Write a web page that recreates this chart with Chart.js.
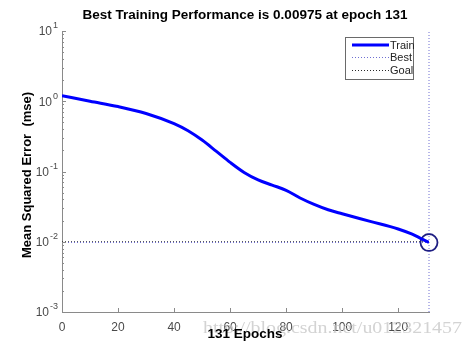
<!DOCTYPE html>
<html>
<head>
<meta charset="utf-8">
<script src="https://cdn.jsdelivr.net/npm/chart.js@4.4.1/dist/chart.umd.min.js"></script>
<style>
html,body{margin:0;padding:0;background:#fff;}
#c{display:block;}
</style>
</head>
<body>
<canvas id="c" width="474" height="355"></canvas>
<script>
// ---- data ----
const epochs = [0,10,20,30,40,45,50,55,60,65,70,75,80,85,90,95,100,110,120,125,128,131];
const mse    = [1.2,1.0,0.84,0.67,0.48,0.38,0.28,0.195,0.135,0.097,0.076,0.064,0.054,0.042,0.034,0.0285,0.025,0.0195,0.0152,0.0128,0.0112,0.00975];
const bestEpoch = 131;
const bestPerf = 0.00975;
const goalPerf = 0.01;
const xTickValues = [0,20,40,60,80,100,120];
const yTickExponents = [-3,-2,-1,0,1];
const titleText = "Best Training Performance is 0.00975 at epoch 131";
const yTitleText = "Mean Squared Error  (mse)";
const xTitleText = "131 Epochs";
const legendLabels = ["Train","Best","Goal"];
const watermarkText = "http://blog.csdn.net/u012321457";

const yMin = Math.pow(10, yTickExponents[0]);
const yMax = Math.pow(10, yTickExponents[yTickExponents.length-1]);

const trainColor = 'rgb(0,0,255)';
const bestColor = 'rgb(110,110,210)';
const goalColor = 'rgb(40,40,40)';
const axisColor = '#8a8a8a';
const labelColor = '#4a4a4a';

const trainData = epochs.map((e,i)=>({x:e,y:mse[i]}));

const extras = {
  id:'extras',
  afterDraw(chart){
    const ctx = chart.ctx;
    const xs = chart.scales.x, ys = chart.scales.y;
    const ca = chart.chartArea;
    ctx.save();
    // watermark (behind texts)
    ctx.fillStyle = 'rgba(200,200,200,0.8)';
    ctx.textAlign = 'left';
    ctx.textBaseline = 'alphabetic';
    ctx.font = '16px "Liberation Serif", "DejaVu Serif", serif';
    const ww = ctx.measureText(watermarkText).width;
    ctx.save();
    ctx.translate(203, 333);
    ctx.scale(259/ww, 1);
    ctx.fillText(watermarkText, 0, 0);
    ctx.restore();
    // ticks
    ctx.strokeStyle = axisColor;
    ctx.lineWidth = 1;
    ctx.beginPath();
    xTickValues.forEach(v=>{
      const px = Math.round(xs.getPixelForValue(v))+0.5;
      ctx.moveTo(px, ca.bottom); ctx.lineTo(px, ca.bottom-4);
    });
    yTickExponents.forEach((e,i)=>{
      const py = Math.round(ys.getPixelForValue(Math.pow(10,e)))+0.5;
      ctx.moveTo(ca.left, py); ctx.lineTo(ca.left+4, py);
      if(i < yTickExponents.length-1){
        for(let m=2;m<=9;m++){
          const pm = Math.round(ys.getPixelForValue(m*Math.pow(10,e)))+0.5;
          ctx.moveTo(ca.left, pm); ctx.lineTo(ca.left+2, pm);
        }
      }
    });
    ctx.stroke();
    // y tick labels
    ctx.fillStyle = labelColor;
    ctx.textBaseline = 'middle';
    yTickExponents.forEach(e=>{
      const py = ys.getPixelForValue(Math.pow(10,e));
      const exp = String(e);
      ctx.font = '9px "Liberation Sans", Arial, sans-serif';
      const ew = ctx.measureText(exp).width;
      ctx.textAlign = 'right';
      ctx.fillText(exp, ca.left - 4, py - 5);
      ctx.font = '12px "Liberation Sans", Arial, sans-serif';
      ctx.fillText('10', ca.left - 5 - ew, py + 1);
    });
    // title
    ctx.fillStyle = '#000';
    ctx.textAlign = 'center';
    ctx.textBaseline = 'alphabetic';
    ctx.font = 'bold 13.5px "Liberation Sans", Arial, sans-serif';
    ctx.fillText(titleText, 245, 19);
    // x title
    ctx.font = 'bold 13.5px "Liberation Sans", Arial, sans-serif';
    ctx.fillText(xTitleText, 245, 338);
    // y title
    ctx.save();
    ctx.translate(31, 175);
    ctx.rotate(-Math.PI/2);
    ctx.font = 'bold 13px "Liberation Sans", Arial, sans-serif';
    ctx.fillText(yTitleText, 0, 0);
    ctx.restore();
    // legend
    const lx = 345.5, ly = 37.5, lw = 68, lh = 42;
    ctx.fillStyle = '#fff';
    ctx.fillRect(lx, ly, lw, lh);
    ctx.strokeStyle = '#6a6a6a';
    ctx.lineWidth = 1;
    ctx.setLineDash([]);
    ctx.strokeRect(lx, ly, lw, lh);
    const ds = chart.data.datasets;
    const rows = [
      {y:45, color:ds[0].borderColor, width:ds[0].borderWidth, dash:[]},
      {y:57.5, color:ds[1].borderColor, width:1, dash:[1,2]},
      {y:70.5, color:ds[3].borderColor, width:1, dash:[1,2]}
    ];
    rows.forEach((r,i)=>{
      ctx.beginPath();
      ctx.strokeStyle = r.color;
      ctx.lineWidth = r.width;
      ctx.setLineDash(r.dash);
      ctx.moveTo(352, r.y); ctx.lineTo(389, r.y);
      ctx.stroke();
      ctx.setLineDash([]);
      ctx.fillStyle = '#222';
      ctx.textAlign = 'left';
      ctx.textBaseline = 'middle';
      ctx.font = '11px "Liberation Sans", Arial, sans-serif';
      ctx.fillText(legendLabels[i], 390, r.y+0.5);
    });
    ctx.restore();
  }
};

new Chart(document.getElementById('c'), {
  type:'line',
  data:{
    datasets:[
      {label:'Train', data:trainData, borderColor:trainColor, borderWidth:3, pointRadius:0, cubicInterpolationMode:'monotone', fill:false},
      {label:'Best', data:[{x:0,y:bestPerf},{x:bestEpoch,y:bestPerf}], borderColor:bestColor, borderWidth:1, borderDash:[1,2], pointRadius:0, fill:false},
      {label:'BestV', data:[{x:bestEpoch,y:yMin},{x:bestEpoch,y:yMax}], borderColor:bestColor, borderWidth:1, borderDash:[1,2], pointRadius:0, fill:false, clip:false},
      {label:'Goal', data:[{x:0,y:goalPerf},{x:bestEpoch,y:goalPerf}], borderColor:goalColor, borderWidth:1, borderDash:[1,2], pointRadius:0, fill:false},
      {label:'BestPt', data:[{x:bestEpoch,y:bestPerf}], showLine:false, pointRadius:8.5, pointBorderWidth:1.8, pointBorderColor:'rgb(30,30,130)', pointBackgroundColor:'rgba(0,0,0,0)', clip:false}
    ]
  },
  options:{
    responsive:false,
    animation:false,
    events:[],
    layout:{padding:{top:31,right:45,left:0,bottom:0}},
    plugins:{legend:{display:false},title:{display:false},tooltip:{enabled:false}},
    scales:{
      x:{
        type:'linear', min:0, max:bestEpoch,
        grid:{display:false, drawTicks:false},
        border:{display:true, color:axisColor, width:1},
        afterBuildTicks(s){ s.ticks = xTickValues.map(v=>({value:v})); },
        ticks:{color:labelColor, font:{size:12, family:'"Liberation Sans", Arial, sans-serif'}, padding:8, maxRotation:0, autoSkip:false},
        afterFit(s){ s.height = 43; }
      },
      y:{
        type:'logarithmic', min:yMin, max:yMax,
        grid:{display:false, drawTicks:false},
        border:{display:true, color:axisColor, width:1},
        afterBuildTicks(s){ s.ticks = yTickExponents.map(e=>({value:Math.pow(10,e)})); },
        ticks:{display:false},
        afterFit(s){ s.width = 62; }
      }
    }
  },
  plugins:[extras]
});
</script>
</body>
</html>
